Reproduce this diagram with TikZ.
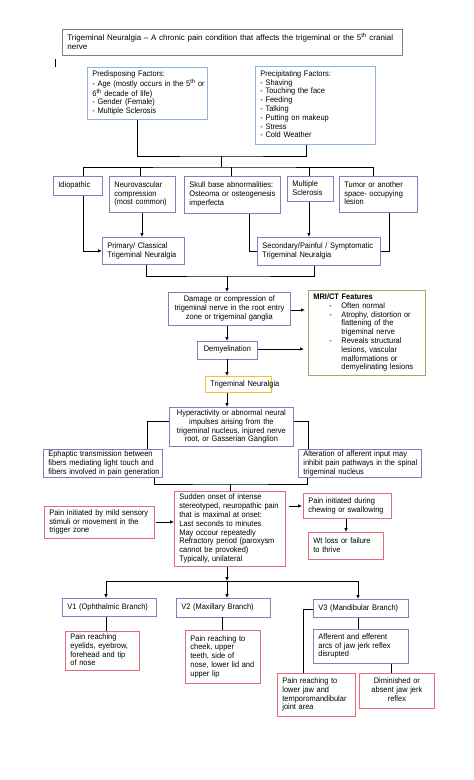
\documentclass[tikz,border=0pt]{standalone}
\usepackage{fontspec}
\setmainfont{Liberation Sans}[FakeStretch=0.93]
\newfontfamily\titlefont{Liberation Sans}[Ligatures=TeX]
\usetikzlibrary{arrows.meta}
\newcommand\myfs{\fontsize{8}{8.8}\selectfont}
\newcommand\mridash{\makebox[28pt][l]{\hspace*{16pt}-}}
\newcommand\tbl[1]{\begin{tabular}{@{}l@{}}#1\end{tabular}}
\newcommand\tbc[1]{\begin{tabular}{@{}c@{}}#1\end{tabular}}
\definecolor{cgray}{HTML}{7F7F7F}
\definecolor{cblue}{HTML}{8FB2DA}
\definecolor{cpurp}{HTML}{8F78BD}
\definecolor{cgreen}{HTML}{93AD6E}
\definecolor{cgold}{HTML}{F2C230}
\definecolor{cred}{HTML}{E56B78}
\tikzset{
  bx/.style={draw, line width=0.8pt, anchor=north west, inner xsep=5pt, inner ysep=1pt,
    align=left, font=\myfs, text=black},
  cbx/.style={bx, align=center},
  ln/.style={line width=0.8pt, draw=black},
  arr/.style={ln, -{Latex[length=4pt,width=3.6pt]}}
}
\begin{document}
\begin{tikzpicture}[x=1pt,y=-1pt]
\fill[white] (0,0) rectangle (474,780);
\useasboundingbox (0,0) rectangle (474,780);
% cursor mark
\draw[line width=0.8pt] (55.7,59) -- (55.7,67);
% title
\node[bx, draw=cgray, text width=330, minimum height=26, font=\myfs\titlefont] (title) at (62,29)
 {\tbl{Trigeminal Neuralgia \textendash{} A chronic pain condition that affects the trigeminal or the 5\textsuperscript{th} cranial\\nerve}};
% factors
\node[bx, draw=cblue, text width=110, minimum height=52] (pred) at (87,67)
 {\tbl{Predisposing Factors:\\- Age (mostly occurs in the 5\textsuperscript{th} or\\6\textsuperscript{th} decade of life)\\- Gender (Female)\\- Multiple Sclerosis}};
\node[bx, draw=cblue, text width=110, minimum height=78] (prec) at (255,66)
 {\tbl{Precipitating Factors:\\- Shaving\\- Touching the face\\- Feeding\\- Talking\\- Putting on makeup\\- Stress\\- Cold Weather}};
% causes
\node[bx, draw=cpurp, text width=38.5, minimum height=19] (idio) at (53,176) {\tbl{Idiopathic}};
\node[bx, draw=cpurp, text width=56, minimum height=36] (neuro) at (109,176) {\tbl{Neurovascular\\compression\\(most common)}};
\node[bx, draw=cpurp, text width=86, minimum height=37] (skull) at (184,176) {\tbl{Skull base abnormalities:\\Osteoma or osteogenesis\\imperfecta}};
\node[bx, draw=cpurp, text width=36, minimum height=25] (ms) at (287,176) {\tbl{Multiple\\Sclerosis}};
\node[bx, draw=cpurp, text width=68, minimum height=36] (tumor) at (339,176) {\tbl{Tumor or another\\space- occupying\\lesion}};
\node[bx, draw=cpurp, text width=72, minimum height=27] (primary) at (102,237) {\tbl{Primary/ Classical\\Trigeminal Neuralgia}};
\node[bx, draw=cpurp, text width=113, minimum height=28] (secondary) at (257,237) {\tbl{Secondary/Painful / Symptomatic\\Trigeminal Neuralgia}};
% mechanism
\node[cbx, draw=cpurp, text width=112, minimum height=33] (damage) at (168,292) {\tbc{Damage or compression of\\trigeminal nerve in the root entry\\zone or trigeminal ganglia}};
\node[bx, draw=cgreen, text width=107, minimum height=85] (mri) at (308,290)
 {\tbl{\textbf{MRI/CT Features}\\\mridash Often normal\\\mridash Atrophy, distortion or\\\hspace*{28pt}flattening of the\\\hspace*{28pt}trigeminal nerve\\\mridash Reveals structural\\\hspace*{28pt}lesions, vascular\\\hspace*{28pt}malformations or\\\hspace*{28pt}demyelinating lesions}};
\node[cbx, draw=cpurp, text width=50, minimum height=17.5] (demy) at (197,341) {\tbc{Demyelination}};
\node[cbx, draw=cgold, text width=56, minimum height=16] (tn) at (205,376) {\tbc{Trigeminal Neuralgia}};
\node[cbx, draw=cpurp, text width=114, minimum height=39] (hyper) at (169,407) {\tbc{Hyperactivity or abnormal neural\\impulses arising from the\\trigeminal nucleus, injured nerve\\root, or Gasserian Ganglion}};
\node[bx, draw=cpurp, text width=109, minimum height=27] (ephaptic) at (43,449) {\tbl{Ephaptic transmission between\\fibers mediating light touch and\\fibers involved in pain generation}};
\node[bx, draw=cpurp, text width=113, minimum height=26] (alter) at (298,449) {\tbl{Alteration of afferent input may\\inhibit pain pathways in the spinal\\trigeminal nucleus}};
% symptoms
\node[bx, draw=cred, text width=101, minimum height=75] (sudden) at (174,491) {\tbl{Sudden onset of intense\\stereotyped, neuropathic pain\\that is maximal at onset:\\Last seconds to minutes\\May occour repeatedly\\Refractory period (paroxysm\\cannot be provoked)\\Typically, unilateral}};
\node[bx, draw=cred, text width=100, minimum height=32] (mild) at (44,506) {\tbl{Pain initiated by mild sensory\\stimuli or movement in the\\trigger zone}};
\node[bx, draw=cred, text width=78, minimum height=25] (chew) at (303,493) {\tbl{Pain initiated during\\chewing or swallowing}};
\node[bx, draw=cred, text width=65, minimum height=27] (wt) at (308,532) {\tbl{Wt loss or failure\\to thrive}};
% branches
\node[bx, draw=cpurp, text width=84, minimum height=18] (v1) at (62,598) {\tbl{V1 (Ophthalmic Branch)}};
\node[bx, draw=cpurp, text width=84, minimum height=18.5] (v2) at (176,598) {\tbl{V2 (Maxillary Branch)}};
\node[bx, draw=cpurp, text width=85, minimum height=18] (v3) at (313,599) {\tbl{V3 (Mandibular Branch)}};
\node[bx, draw=cred, text width=64, minimum height=39] (eyelids) at (65,631) {\tbl{Pain reaching\\eyelids, eyebrow,\\forehead and tip\\of nose}};
\node[bx, draw=cred, text width=65, minimum height=53] (cheek) at (185,630) {\tbl{Pain reaching to\\cheek, upper\\teeth, side of\\nose, lower lid and\\upper lip}};
\node[bx, draw=cpurp, text width=85, minimum height=34] (afferent) at (313,629) {\tbl{Afferent and efferent\\arcs of jaw jerk reflex\\disrupted}};
\node[cbx, draw=cred, text width=65, minimum height=35] (dimin) at (359,673) {\tbc{Diminished or\\absent jaw jerk\\reflex}};
\node[bx, draw=cred, text width=68, minimum height=43] (lowerjaw) at (277,673) {\tbl{Pain reaching to\\lower jaw and\\temporomandibular\\joint area}};
% connectors: factors to causes
\coordinate (j1) at (221,156);
\coordinate (j2) at (221,167);
\draw[ln] (pred.south -| 137,0) |- (j1) -| (prec.south -| 306,0);
\draw[ln] (j1) -- (j2);
\draw[ln] (idio.north -| 83,0) |- (j2) -| (tumor.north -| 373,0);
\draw[ln] (neuro.north -| 140,0) -- (j2 -| 140,0);
\draw[ln] (skull.north -| 231.7,0) -- (j2 -| 231.7,0);
\draw[ln] (ms.north -| 309,0) -- (j2 -| 309,0);
% causes to types
\draw[arr] (idio.south -| 83,0) |- (primary.west);
\draw[arr] (neuro.south -| 142,0) -- (primary.north -| 142,0);
\draw[ln] (skull.south -| 249,0) |- (secondary.west);
\draw[arr] (ms.south -| 309,0) -- (secondary.north -| 309,0);
\draw[ln] (tumor.south -| 389,0) |- (secondary.east);
% types to damage
\coordinate (j3) at (227,276);
\draw[ln] (primary.south -| 146,0) |- (j3) -| (secondary.south -| 314,0);
\draw[arr] (j3) -- (damage.north -| j3);
\coordinate (m1) at (305,310);
\coordinate (m2) at (304,349);
\draw[arr] (damage.east |- m1) -- (m1);
\draw[arr] (demy.east |- m2) -- (m2);
\draw[arr] (damage.south -| 227,0) -- (demy.north -| 227,0);
\draw[arr] (demy.south -| 227,0) -- (tn.north -| 227,0);
\draw[arr] (tn.south -| 227,0) -- (hyper.north -| 227,0);
% hyper branches
\draw[ln] (hyper.west |- 0,421.7) -| (ephaptic.north -| 147,0);
\draw[ln] (hyper.east |- 0,421.7) -| (alter.north -| 308,0);
\coordinate (j4) at (230,484);
\draw[ln] (ephaptic.south -| 154,0) |- (j4) -| (alter.south -| 307,0);
\draw[ln] (j4) -- (sudden.north -| j4);
% symptoms
\draw[arr] (mild.east |- 0,522) ++(1,0) -- (sudden.west |- 0,522);
\coordinate (c1) at (302,506);
\draw[arr] (sudden.east |- c1) ++(3,0) -- (c1);
\draw[arr] (chew.south -| 346,0) -- (wt.north -| 346,0);
\coordinate (j5) at (227,581);
\draw[arr] (sudden.south -| j5) -- (j5);
\draw[ln] (j5 -| 106,0) -- (j5 -| 358,0);
\draw[arr] (j5 -| 106,0) -- (v1.north -| 106,0);
\draw[arr] (j5) -- (v2.north -| j5);
\draw[arr] (j5 -| 358,0) -- (v3.north -| 358,0);
% branch details
\draw[ln] (v1.south -| 106,0) -- (eyelids.north -| 106,0);
\draw[ln] (v2.south -| 222,0) -- (cheek.north -| 222,0);
\draw[ln] (v3.south -| 358,0) -- (afferent.north -| 358,0);
\draw[ln] (afferent.south -| 391,0) -- (dimin.north -| 391,0);
\draw[ln] (v3.west |- 0,609) -| (lowerjaw.north -| 303,0);
\end{tikzpicture}
\end{document}
